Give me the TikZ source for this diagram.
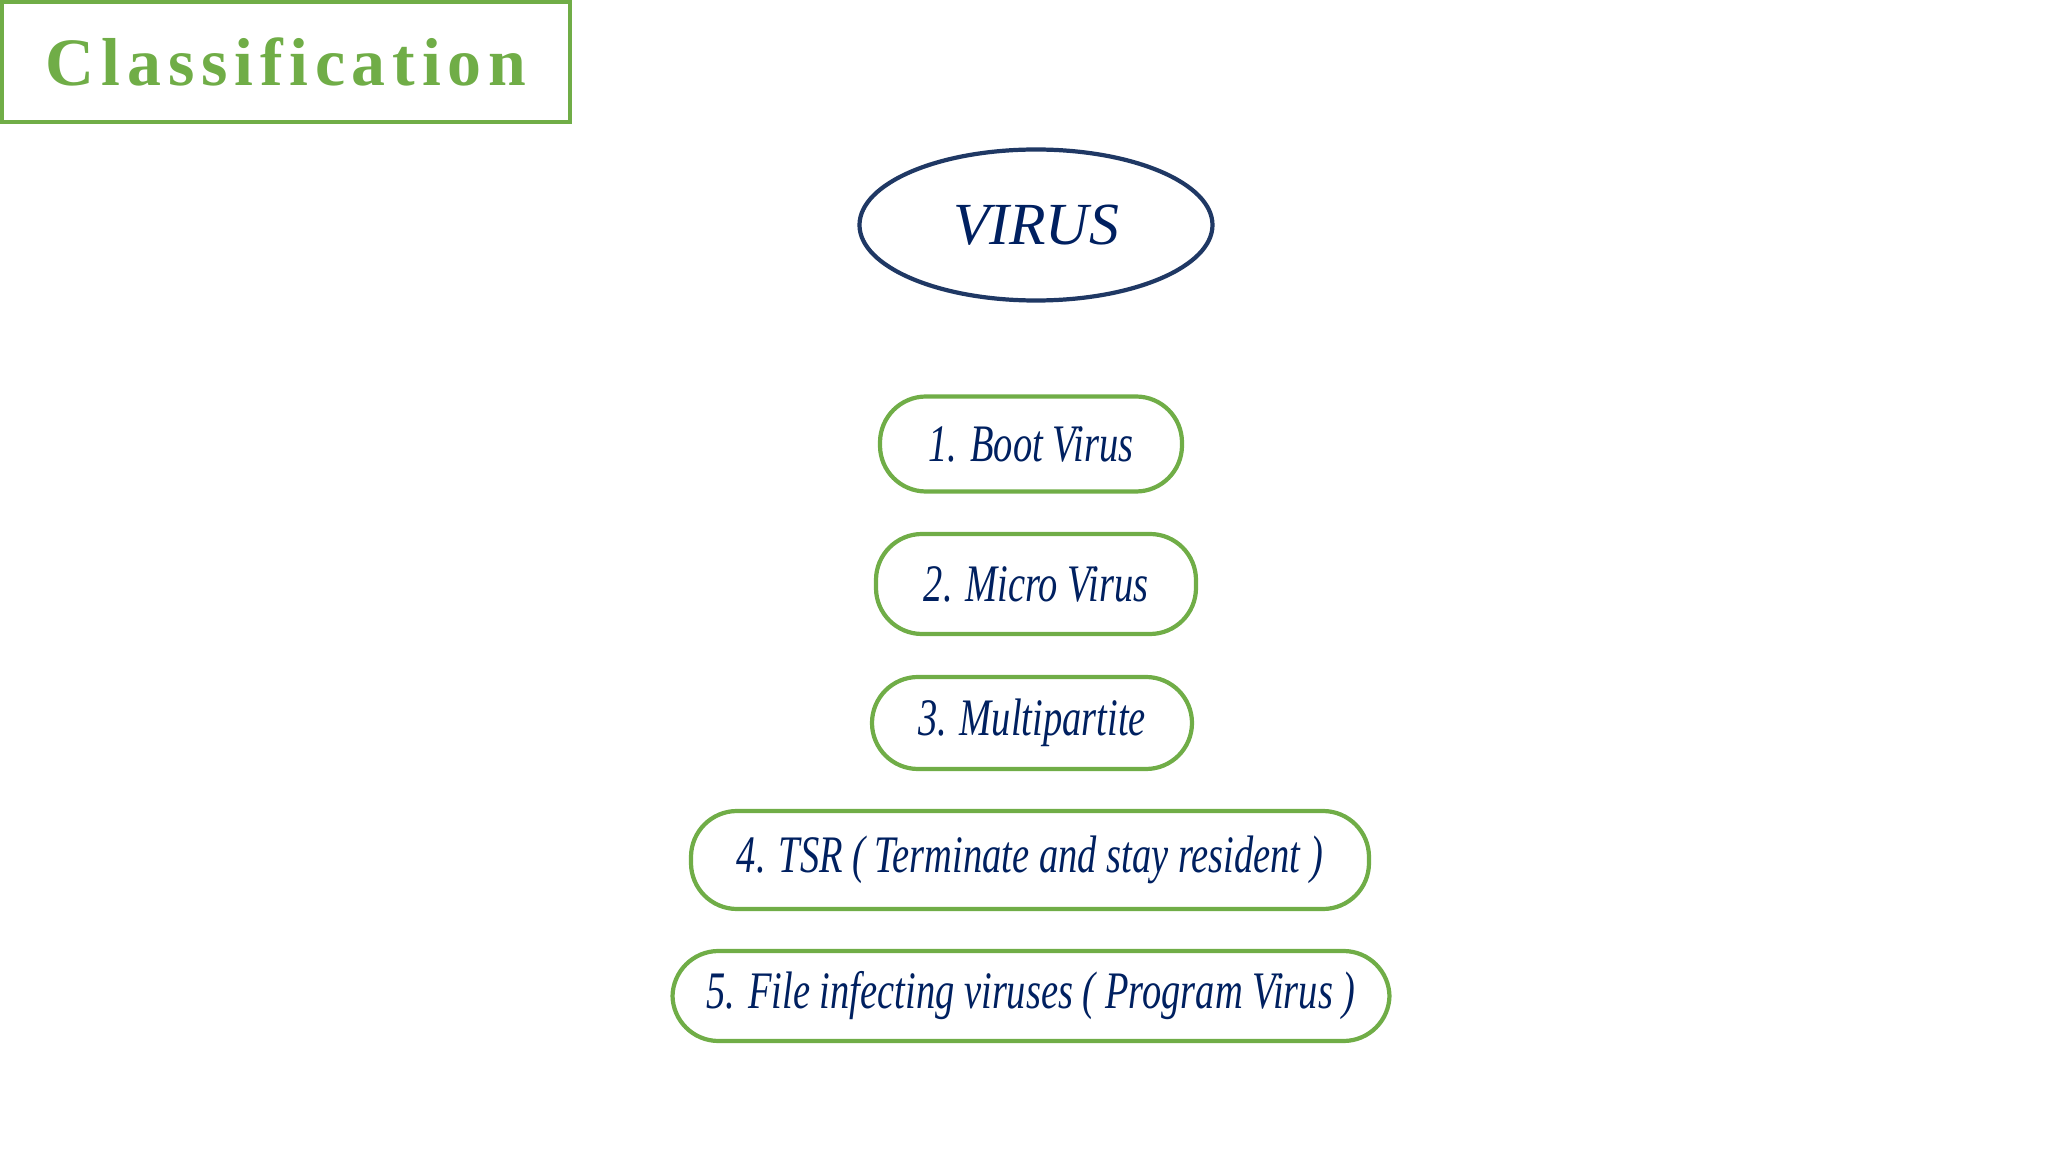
\documentclass[tikz,border=0pt]{standalone}
\usepackage{fontspec}
\setmainfont{Liberation Serif}
\newfontfamily\titlefont[LetterSpace=10]{Liberation Serif}
\newfontfamily\itemfont[FakeStretch=0.73]{Liberation Serif}
\usepackage{tikz}
\usetikzlibrary{shapes.geometric}
\definecolor{leafgreen}{RGB}{112,173,71}
\definecolor{navytext}{RGB}{0,32,96}
\definecolor{navyline}{RGB}{31,56,100}

\tikzset{
  kind/.style={draw=leafgreen, line width=1.2pt, rounded corners=0.46cm,
    inner sep=0pt, text=navytext, font=\itemfont\itshape\fontsize{15}{17}\selectfont}
}

\begin{document}
\begin{tikzpicture}
 \useasboundingbox (0,0) rectangle (20.48,-11.52);
 \node[draw=leafgreen, line width=1.4pt, minimum width=5.68cm, minimum height=1.20cm,
   text=leafgreen, font=\titlefont\bfseries\fontsize{19.3}{22}\selectfont] (title) at (2.86,-0.62) {Classification};
 \node[ellipse, draw=navyline, line width=1.2pt, minimum width=3.53cm, minimum height=1.51cm,
   text=navytext, font=\itshape\fontsize{17}{20}\selectfont] (virus) at (10.36,-2.25) {VIRUS};
 \node[kind, minimum width=3.02cm, minimum height=0.95cm] (boot) at (10.31,-4.44) {1. Boot Virus};
 \node[kind, minimum width=3.20cm, minimum height=1.00cm] (micro) at (10.36,-5.84) {2. Micro Virus};
 \node[kind, minimum width=3.20cm, minimum height=0.92cm] (multi) at (10.32,-7.23) {3. Multipartite};
 \node[kind, minimum width=6.78cm, minimum height=0.98cm] (tsr) at (10.30,-8.60) {4. TSR ( Terminate and stay resident )};
 \node[kind, minimum width=7.17cm, minimum height=0.90cm] (file) at (10.31,-9.96) {5. File infecting viruses ( Program Virus )};
\end{tikzpicture}
\end{document}
